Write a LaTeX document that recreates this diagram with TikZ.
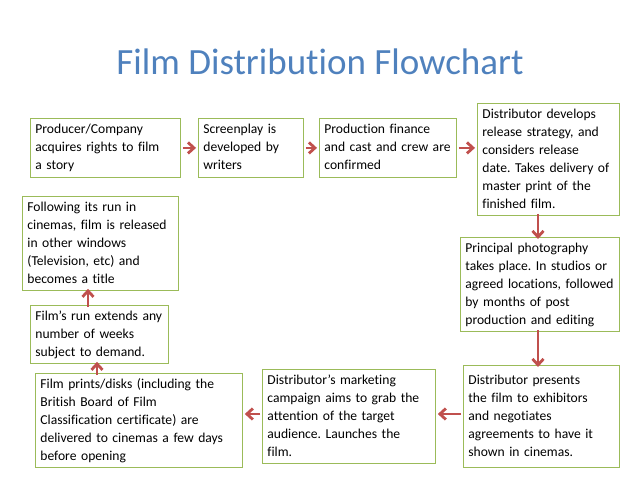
\documentclass[tikz,border=0pt]{standalone}
\usepackage{fontspec}
\setmainfont[Ligatures=NoCommon]{Carlito}
\usetikzlibrary{arrows.meta}
\definecolor{boxg}{HTML}{9BBB59}
\definecolor{arr}{HTML}{C0504D}
\definecolor{ttl}{HTML}{4F81BD}
\begin{document}
\frenchspacing
\begin{tikzpicture}[x=1pt,y=-1pt,
  bx/.style={draw=boxg,line width=0.8pt,anchor=north west,align=left,inner xsep=5pt,inner ysep=2pt,
    font=\fontsize{13.6}{18}\selectfont},
  ar/.style={draw=arr,line width=2.8pt,-{Straight Barb[length=6pt,width=11pt]}}]
\useasboundingbox (0,0) rectangle (638,479);
\node[text=ttl,font=\fontsize{37}{40}\selectfont] (title) at (320,62) {Film Distribution Flowchart};
\newcommand{\bxat}[6]{\node[bx,text width=#4-#2-10,minimum height=#5-#3] (#1) at (#2,#3) {\begin{tabular}{@{}l@{}}#6\end{tabular}};}
\bxat{n1}{30}{118}{180}{177}{Producer/Company\\acquires rights to film\\a story}
\bxat{n2}{198}{118}{303}{177}{Screenplay is\\developed by\\writers}
\bxat{n3}{319}{118}{456}{177}{Production finance\\and cast and crew are\\confirmed}
\bxat{n4}{477}{103}{619}{213}{Distributor develops\\release strategy, and\\considers release\\date. Takes delivery of\\master print of the\\finished film.}
\bxat{n5}{460}{237}{619}{331}{Principal photography\\takes place. In studios or\\agreed locations, followed\\by months of post\\production and editing}
\bxat{n6}{463}{365}{619}{467}{Distributor presents\\the film to exhibitors\\and negotiates\\agreements to have it\\shown in cinemas.}
\bxat{n7}{262}{369}{435}{463}{Distributor’s marketing\\campaign aims to grab the\\attention of the target\\audience. Launches the\\film.}
\bxat{n8}{35}{373}{242}{467}{Film prints/disks (including the\\British Board of Film\\Classification certificate) are\\delivered to cinemas a few days\\before opening}
\bxat{n9}{30}{305}{168}{361}{Film’s run extends any\\number of weeks\\subject to demand.}
\bxat{n10}{22}{196}{178}{286}{Following its run in\\cinemas, film is released\\in other windows\\(Television, etc) and\\becomes a title}
\draw[ar] ([xshift=2pt]n1.east) -- ([xshift=-2pt]n2.west);
\draw[ar] ([xshift=2pt]n2.east) -- ([xshift=-2pt]n3.west);
\draw[ar] ([xshift=2pt]n3.east) -- ([xshift=-2pt]n3.east -| n4.west);
\draw[ar] ([yshift=2pt]n4.south -| 538,0) -- ([yshift=-2pt]n5.north -| 538,0);
\draw[ar] ([yshift=2pt]n5.south -| 538,0) -- ([yshift=-2pt]n6.north -| 538,0);
\draw[ar] ([xshift=-2pt]n6.west |- 0,414) -- ([xshift=2pt]n7.east |- 0,414);
\draw[ar] ([xshift=-2pt]n7.west |- 0,414) -- ([xshift=2pt]n8.east |- 0,414);
\draw[ar] ([yshift=-2pt]n8.north -| 97,0) -- ([yshift=2pt]n9.south -| 97,0);
\draw[ar] ([yshift=-2pt]n9.north -| 88,0) -- ([yshift=2pt]n10.south -| 88,0);
\end{tikzpicture}
\end{document}
